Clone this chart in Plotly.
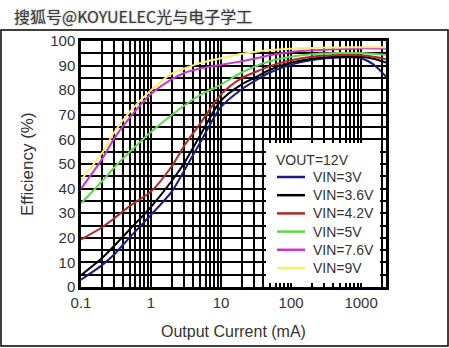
import plotly.graph_objects as go
import numpy as np

# Output current (mA) sample points shared by every curve
current_ma = [0.1, 0.2, 0.3, 0.5, 1, 2, 3, 5, 10, 20, 30, 50, 100, 200, 500, 1000, 1500, 2270]

# Efficiency (%) for each input voltage
eff_vin_3v0 = [3.0, 8.9, 13.3, 20.3, 29.3, 39.0, 47.5, 58.5, 73.2, 80.5, 83.7, 87.2, 90.4, 92.3, 93.3, 93.0, 90.5, 85.5]
eff_vin_3v6 = [4.8, 11.8, 16.8, 23.5, 32.6, 43.3, 50.5, 61.5, 75.8, 82.5, 85.0, 88.3, 91.2, 92.8, 93.6, 93.6, 92.8, 91.2]
eff_vin_4v2 = [19.3, 24.3, 28.0, 33.0, 38.8, 49.3, 57.5, 66.3, 78.3, 85.0, 87.2, 89.8, 92.2, 93.6, 94.3, 94.2, 93.6, 92.6]
eff_vin_5v0 = [34.0, 43.0, 48.7, 55.0, 63.0, 70.0, 73.8, 78.0, 82.3, 87.3, 89.6, 91.8, 93.6, 94.6, 95.1, 95.1, 94.8, 94.4]
eff_vin_7v6 = [40.0, 52.0, 60.5, 69.0, 78.5, 84.5, 87.0, 88.8, 90.3, 91.8, 92.8, 94.2, 95.5, 96.2, 96.7, 97.0, 97.0, 97.0]
eff_vin_9v0 = [43.5, 54.5, 63.0, 71.3, 80.0, 86.8, 88.8, 91.0, 93.0, 94.8, 95.5, 96.3, 96.9, 97.2, 97.4, 97.5, 97.5, 97.5]

series_names = ["VIN=3V", "VIN=3.6V", "VIN=4.2V", "VIN=5V", "VIN=7.6V", "VIN=9V"]
series_values = [eff_vin_3v0, eff_vin_3v6, eff_vin_4v2, eff_vin_5v0, eff_vin_7v6, eff_vin_9v0]
series_colors = ["#1c1c80", "#000000", "#b02828", "#5fd84a", "#cc33cc", "#f5f06a"]
legend_title = "VOUT=12V"

x_tick_vals = [0.1, 1, 10, 100, 1000]
x_tick_text = ["0.1", "1", "10", "100", "1000"]

FONT = "Liberation Sans, Arial, sans-serif"
TEXT_COLOR = "#333333"

# plot-area geometry in pixels, used to place the decorations
W, H = 449, 348
L, R, T, B = 81, 63, 41, 61
PW, PH = W - L - R, H - T - B


def px_x(px):
    return (px - L) / PW


def px_y(py):
    return (H - B - py) / PH


fig = go.Figure()
for name, vals, col in zip(series_names, series_values, series_colors):
    fig.add_trace(go.Scatter(
        x=current_ma, y=vals, name=name, mode="lines",
        line=dict(color=col, width=2, shape="spline", smoothing=0.8),
        showlegend=False,
    ))

# minor log grid lines at 2..9 of each decade
minor_vals = [m * 10.0 ** d for d in range(-1, 4) for m in range(2, 10)]

fig.update_xaxes(
    type="log", range=[-1, np.log10(2270)],
    tickvals=x_tick_vals, ticktext=x_tick_text, ticks="",
    showgrid=True, gridcolor="black", gridwidth=2,
    minor=dict(tickvals=minor_vals, showgrid=True, gridcolor="black", gridwidth=2, ticks=""),
    showline=True, mirror=True, linecolor="black", linewidth=2.5,
    tickfont=dict(family=FONT, size=15, color=TEXT_COLOR),
    automargin=False,
    zeroline=False,
)
fig.update_yaxes(
    range=[0, 100], dtick=10, ticks="",
    showgrid=True, gridcolor="black", gridwidth=2,
    minor=dict(dtick=5, showgrid=True, gridcolor="black", gridwidth=2, ticks=""),
    showline=True, mirror=True, linecolor="black", linewidth=2.5,
    tickfont=dict(family=FONT, size=15, color=TEXT_COLOR),
    automargin=False,
    zeroline=False,
)

# outer frame around the whole chart and a white panel holding the key
shapes = [
    dict(type="rect", xref="paper", yref="paper",
         x0=px_x(1), x1=px_x(448), y0=px_y(346), y1=px_y(30),
         line=dict(color="black", width=1.5), layer="below"),
    dict(type="rect", xref="paper", yref="paper",
         x0=px_x(266), x1=px_x(380), y0=px_y(283), y1=px_y(143),
         fillcolor="white", line=dict(width=0), layer="above"),
]
annotations = [
    dict(text="搜狐号@KOYUELEC光与电子学工",
         xref="paper", yref="paper", x=px_x(12), y=px_y(16),
         xanchor="left", yanchor="middle", showarrow=False,
         font=dict(family="Noto Sans CJK SC", size=16, color="#3a3a3a",
                   shadow="0px 0px 2px #9a9a9a")),
    # axis titles
    dict(text="Output Current (mA)", xref="paper", yref="paper", x=0.5, y=px_y(331),
         xanchor="center", yanchor="middle", showarrow=False,
         font=dict(family=FONT, size=16, color=TEXT_COLOR)),
    dict(text="Efficiency (%)", xref="paper", yref="paper", x=px_x(27), y=0.5,
         xanchor="center", yanchor="middle", showarrow=False, textangle=-90,
         font=dict(family=FONT, size=17, color=TEXT_COLOR)),
    dict(text=legend_title, xref="paper", yref="paper", x=px_x(274), y=px_y(160),
         xanchor="left", yanchor="middle", showarrow=False,
         font=dict(family=FONT, size=14, color=TEXT_COLOR)),
]
for i, (name, col) in enumerate(zip(series_names, series_colors)):
    row_y = 177 + 18.2 * i
    shapes.append(dict(type="line", xref="paper", yref="paper",
                       x0=px_x(277), x1=px_x(305), y0=px_y(row_y), y1=px_y(row_y),
                       line=dict(color=col, width=2.5), layer="above"))
    annotations.append(dict(text=name, xref="paper", yref="paper",
                            x=px_x(311), y=px_y(row_y),
                            xanchor="left", yanchor="middle", showarrow=False,
                            font=dict(family=FONT, size=14, color=TEXT_COLOR)))

fig.update_layout(
    width=W, height=H,
    margin=dict(l=L, r=R, t=T, b=B),
    paper_bgcolor="white", plot_bgcolor="white",
    showlegend=False,
    shapes=shapes,
    annotations=annotations,
)

fig.write_html("out.html")
